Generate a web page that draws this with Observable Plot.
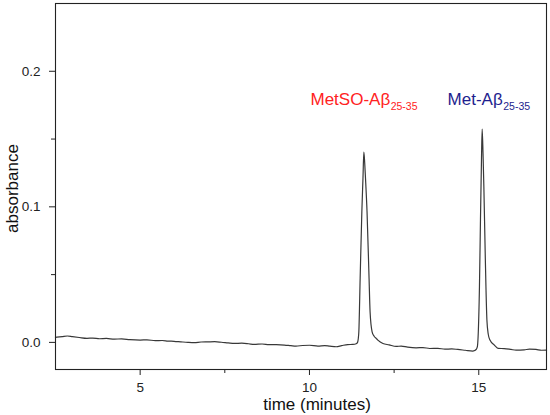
<!DOCTYPE html>
<html><head><meta charset="utf-8">
<script src="https://cdn.jsdelivr.net/npm/d3@7"></script>
<script src="https://cdn.jsdelivr.net/npm/@observablehq/plot@0.6"></script>
<style>
body{margin:0;background:#fff}
#chart svg{font-family:"Liberation Sans",Arial,sans-serif}
</style>
</head><body><div id="chart"></div>
<script>
// Chromatogram trace (time in minutes, absorbance)
const times = [
  2.5, 2.7, 2.85, 3.0, 3.2, 3.43, 3.6, 3.8, 4.0, 4.24, 4.45, 4.7, 5.0, 5.2, 5.45, 5.65, 5.82,
  6.0, 6.2, 6.41, 6.6, 6.8, 7.0, 7.2, 7.4, 7.6, 7.78, 8.0, 8.2, 8.37, 8.6, 8.8, 9.02, 9.26,
  9.45, 9.6, 9.8, 10.0, 10.25, 10.45, 10.6, 10.79, 10.95, 11.13, 11.28, 11.38, 11.42, 11.44,
  11.458, 11.497, 11.547, 11.58, 11.606, 11.63, 11.655, 11.70, 11.76, 11.79, 11.85, 11.91, 11.97,
  12.02, 12.17, 12.35, 12.56, 12.71, 12.9, 13.15, 13.35, 13.55, 13.79, 14.0, 14.2, 14.38,
  14.6, 14.82, 14.88, 14.93, 14.96, 14.98, 15.02, 15.05, 15.08, 15.10, 15.125, 15.15, 15.19, 15.24,
  15.28, 15.33, 15.46, 15.57, 15.75, 15.95, 16.1, 16.34, 16.5, 16.69, 16.85, 17.0
];
const absorbance = [
  0.0037, 0.0043, 0.0047, 0.0042, 0.0036, 0.0030, 0.0032, 0.0027, 0.0029, 0.0024, 0.0026, 0.0020, 0.0017, 0.0019, 0.0013, 0.0014, 0.0010,
  0.0008, 0.0004, 0.0000, -0.0002, 0.0003, 0.0004, 0.0005, 0.0001, -0.0004, -0.0008, -0.0006, -0.0010, -0.0015, -0.0012, -0.0016, -0.0017, -0.0020,
  -0.0024, -0.0027, -0.0023, -0.0021, -0.0027, -0.0024, -0.0028, -0.0032, -0.0024, -0.0016, -0.0015, -0.0010, 0.0000, 0.0025,
  0.0078, 0.0473, 0.0965, 0.121, 0.1404, 0.133, 0.121, 0.0965, 0.0473, 0.0226, 0.0078, 0.0045, 0.0030,
  0.0017, -0.0008, -0.0018, -0.0030, -0.0027, -0.0035, -0.0040, -0.0038, -0.0045, -0.0044, -0.0050, -0.0048, -0.0052,
  -0.0058, -0.0064, -0.0060, -0.0050, -0.0030, 0.0041, 0.041, 0.0904, 0.135, 0.1574, 0.140, 0.115, 0.0658, 0.0165,
  0.0060, 0.0017, -0.0020, -0.0044, -0.0046, -0.0052, -0.0057, -0.0055, -0.0050, -0.0052, -0.0058, -0.0057
];

const xMajorTicks = [5, 10, 15];
const xMinorTicks = [7.5, 12.5];
const yMajorTicks = [0, 0.1, 0.2];
const yMinorTicks = [0.05, 0.15];

const peakNames = ["MetSO-Aβ", "Met-Aβ"];
const peakSubscripts = ["25-35", "25-35"];
const peakLabelTime = [10.03, 14.08];
const peakLabelAbs = [0.1754, 0.1754];
const peakColors = ["#ff2222", "#1e1e8e"];

const xLabel = "time (minutes)";
const yLabel = "absorbance";

const trace = times.map((t, i) => ({t, a: absorbance[i]}));
const labels = peakNames.map((s, i) => ({s, sub: peakSubscripts[i], x: peakLabelTime[i], y: peakLabelAbs[i], c: peakColors[i]}));

const FONT = '"Liberation Sans", Arial, sans-serif';
const ctx = document.createElement("canvas").getContext("2d");
ctx.font = '17px "Liberation Sans", Arial, sans-serif';

const labelMarks = labels.flatMap(d => [
  Plot.text([d], {x: "x", y: "y", text: "s", fill: d.c, textAnchor: "start", lineAnchor: "bottom", fontSize: 17}),
  Plot.text([d], {x: "x", y: "y", text: "sub", fill: d.c, textAnchor: "start", lineAnchor: "bottom", fontSize: 10.5,
    dx: ctx.measureText(d.s).width + 0.5, dy: 5.7})
]);

const chart = Plot.plot({
  width: 550, height: 415,
  marginLeft: 55, marginRight: 4, marginTop: 3, marginBottom: 46,
  style: {fontFamily: FONT, fontSize: "13px", color: "#222", background: "#fff", overflow: "visible"},
  x: {domain: [2.5, 17]},
  y: {domain: [-0.02, 0.25]},
  marks: [
    Plot.axisX({ticks: xMajorTicks, tickSize: 6, tickPadding: 7, tickFormat: d => String(d), label: null, stroke: "#222", fill: "#222", fontSize: 13.5}),
    Plot.axisX({ticks: xMinorTicks, tickSize: 4, tickFormat: () => "", label: null, stroke: "#222"}),
    Plot.axisY({ticks: yMajorTicks, tickSize: 6, tickPadding: 9, tickFormat: d => d.toFixed(1), label: null, stroke: "#222", fill: "#222", fontSize: 13.5}),
    Plot.axisY({ticks: yMinorTicks, tickSize: 4, tickFormat: () => "", label: null, stroke: "#222"}),
    Plot.line(trace, {x: "t", y: "a", stroke: "#383838", strokeWidth: 1.2, curve: "monotone-x"}),
    ...labelMarks,
    Plot.text([xLabel], {text: d => d, frameAnchor: "bottom", textAnchor: "middle", lineAnchor: "bottom", dx: 16, dy: 40, fontSize: 17, fill: "#111"}),
    Plot.text([yLabel], {text: d => d, frameAnchor: "left", rotate: -90, textAnchor: "middle", lineAnchor: "bottom", dx: -37.7, dy: 2, fontSize: 17, fill: "#111"}),
    Plot.frame({stroke: "#222", strokeWidth: 1.1})
  ]
});
document.getElementById("chart").append(chart);
</script>
</body></html>
